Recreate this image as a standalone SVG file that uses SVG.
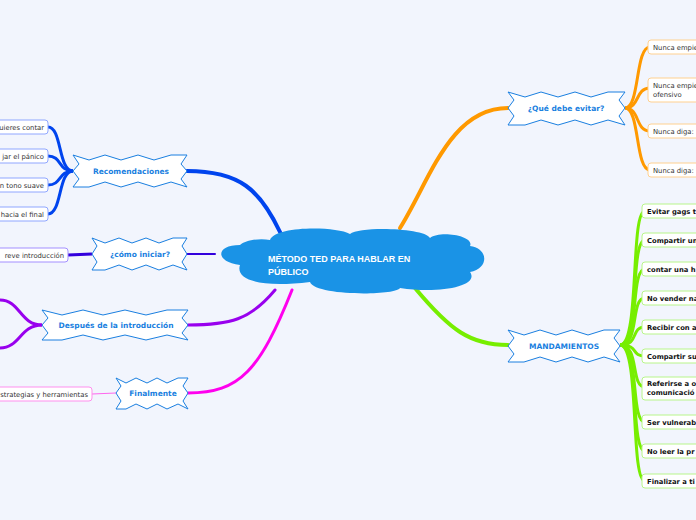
<svg xmlns="http://www.w3.org/2000/svg" width="696" height="520" viewBox="0 0 696 520">
<style>
text{font-family:"Liberation Sans",Arial,sans-serif}
.z{fill:#fff;stroke:#1a7fe0;stroke-width:1}
.zt{font-family:"DejaVu Sans",Verdana,sans-serif;font-size:7.5px;font-weight:bold;fill:#1a7fe0;text-anchor:middle}
.l{font-family:"DejaVu Sans",Verdana,sans-serif;font-size:6.8px;fill:#333}
.g{font-family:"DejaVu Sans",Verdana,sans-serif;font-size:6.8px;fill:#111;font-weight:bold}
.c{fill:none;stroke-linecap:round}
</style>
<rect width="696" height="520" fill="#f2f5fd"/>
<g id="connectors">
<path class="c" d="M400,228 C430,180 450,108 508,108" stroke="#ff9900" stroke-width="4"/>
<path class="c" d="M415,288 C450,330 470,345 508,345" stroke="#77ee00" stroke-width="4"/>
<path class="c" d="M280,232 C260,190 240,171 187,171" stroke="#0044ee" stroke-width="4"/>
<path class="c" d="M215,254 L187,254" stroke="#3300dd" stroke-width="2"/>
<path class="c" d="M275,290 C250,320 230,325 188,325" stroke="#9900ee" stroke-width="3"/>
<path class="c" d="M292,290 C260,370 240,393 188,393" stroke="#ff00ee" stroke-width="3"/>
<g stroke="#ff9900" stroke-width="3" fill="none">
<path d="M625,108 C640,108 635,47 650,47"/><path d="M625,108 C640,108 635,88 650,88"/><path d="M625,108 C640,108 635,131 650,131"/><path d="M625,108 C640,108 635,170 650,170"/>
</g>
<g stroke="#77ee00" stroke-width="3" fill="none">
<path d="M620,345 C640,345 630,211 645,211"/><path d="M620,345 C640,345 630,240 645,240"/><path d="M620,345 C640,345 630,269 645,269"/><path d="M620,345 C640,345 630,298 645,298"/><path d="M620,345 C640,345 630,327 645,327"/><path d="M620,345 C640,345 630,356 645,356"/><path d="M620,345 C640,345 630,387 645,387"/><path d="M620,345 C640,345 630,422 645,422"/><path d="M620,345 C640,345 630,451 645,451"/><path d="M620,345 C640,345 630,481 645,481"/>
</g>
<g stroke="#0044ee" stroke-width="3" fill="none">
<path d="M73,171 C58,171 62,127 48,127"/><path d="M73,171 C58,171 62,156 48,156"/><path d="M73,171 C58,171 62,185 48,185"/><path d="M73,171 C58,171 62,214 48,214"/>
</g>
<path d="M92,254 L68,255" stroke="#3300dd" stroke-width="3"/>
<g stroke="#9900ee" stroke-width="3" fill="none">
<path d="M42,325 C20,325 20,300 0,300"/><path d="M42,325 C20,325 20,348 0,348"/>
</g>
<path d="M116,393 L92,394" stroke="#ff66ee" stroke-width="1"/>
</g>
<g id="center">
<path d="M240,245 C215,245 215,262 240,265 C235,280 260,288 310,282 C315,296 395,296 400,288 C440,294 480,286 470,272 C490,268 488,248 470,246 C475,236 440,230 430,238 C425,228 360,226 350,234 C335,226 275,226 270,240 C260,238 245,240 240,245 Z" fill="#1a93e6"/>
<text x="268" y="262" font-size="9" font-weight="bold" fill="#fff" font-family="DejaVu Sans,Verdana,sans-serif">MÉTODO TED PARA HABLAR EN</text>
<text x="268" y="275" font-size="9" font-weight="bold" fill="#fff" font-family="DejaVu Sans,Verdana,sans-serif">PÚBLICO</text>
</g>
<g id="recomendaciones"><path d="M73,155 L89,160 L105,155 L121,160 L138,155 L154,160 L171,155 L187,155 L181,164 L187,171 L181,179 L187,187 L171,182 L154,187 L138,182 L121,187 L105,182 L89,187 L73,187 L79,179 L73,171 L79,164 Z" class="z"/><text class="zt" x="131" y="174">Recomendaciones</text></g>
<g id="comoiniciar"><path d="M92,238 L105,243 L119,238 L132,243 L146,238 L159,243 L173,238 L187,238 L182,246 L187,254 L182,262 L187,270 L173,265 L159,270 L146,265 L132,270 L119,265 L105,270 L92,270 L97,262 L92,254 L97,246 Z" class="z"/><text class="zt" x="140" y="257">¿cómo iniciar?</text></g>
<g id="despues"><path d="M42,310 L62,315 L83,310 L103,315 L125,310 L146,315 L167,310 L188,310 L182,318 L188,325 L182,333 L188,340 L167,335 L146,340 L125,335 L103,340 L83,335 L62,340 L42,340 L48,333 L42,325 L48,318 Z" class="z"/><text class="zt" x="116" y="328" font-size="7">Después de la introducción</text></g>
<g id="finalmente"><path d="M116,378 L126,383 L136,378 L147,383 L157,378 L167,383 L178,378 L188,378 L183,386 L188,393 L183,401 L188,409 L178,404 L167,409 L157,404 L147,409 L136,404 L126,409 L116,409 L121,401 L116,393 L121,386 Z" class="z"/><text class="zt" x="153" y="396" font-size="7">Finalmente</text></g>
<g id="evitar"><path d="M508,92 L525,97 L541,92 L558,97 L575,92 L591,97 L608,92 L625,92 L619,100 L625,108 L619,116 L625,125 L608,120 L591,125 L575,120 L558,125 L541,120 L525,125 L508,125 L514,116 L508,108 L514,100 Z" class="z"/><text class="zt" x="566" y="111">¿Qué debe evitar?</text></g>
<g id="mandamientos"><path d="M508,330 L524,335 L540,330 L556,335 L572,330 L588,335 L604,330 L620,330 L614,338 L620,346 L614,354 L620,362 L604,357 L588,362 L572,357 L556,362 L540,357 L524,362 L508,362 L514,354 L508,346 L514,338 Z" class="z"/><text class="zt" x="564" y="349">MANDAMIENTOS</text></g>
<g id="leaves-left" fill="#fff" stroke="#8fa6ff">
<rect x="-5" y="120" width="53" height="14" rx="3"/><text class="l" x="44" y="130" text-anchor="end" stroke="none">uieres contar</text>
<rect x="-5" y="149" width="53" height="14" rx="3"/><text class="l" x="44" y="159" text-anchor="end" stroke="none">jar el pánico</text>
<rect x="-5" y="178" width="53" height="14" rx="3"/><text class="l" x="44" y="188" text-anchor="end" stroke="none">n tono suave</text>
<rect x="-5" y="207" width="53" height="14" rx="3"/><text class="l" x="44" y="217" text-anchor="end" stroke="none">hacia el final</text>
<rect x="-5" y="248" width="73" height="14" rx="3" stroke="#a38fff"/><text class="l" x="64" y="258" text-anchor="end" stroke="none">reve introducción</text>
<rect x="-5" y="387" width="97" height="14" rx="3" stroke="#ff8fee"/><text class="l" x="88" y="397" text-anchor="end" stroke="none">strategias y herramientas</text>
</g>
<g id="leaves-evitar" fill="#fff" stroke="#ffd08f">
<rect x="648" y="40" width="60" height="14" rx="3"/><text class="l" x="653" y="50" stroke="none">Nunca empie</text>
<rect x="648" y="78" width="60" height="24" rx="3"/><text class="l" x="653" y="88" stroke="none">Nunca empie</text><text class="l" x="653" y="97" stroke="none">ofensivo</text>
<rect x="648" y="124" width="60" height="14" rx="3"/><text class="l" x="653" y="134" stroke="none">Nunca diga:</text>
<rect x="648" y="163" width="60" height="14" rx="3"/><text class="l" x="653" y="173" stroke="none">Nunca diga:</text>
</g>
<g id="leaves-mandamientos" fill="#fff" stroke="#b8f58a">
<rect x="642" y="204" width="66" height="14" rx="3"/><text class="g" x="647" y="214" stroke="none">Evitar gags t</text>
<rect x="642" y="233" width="66" height="14" rx="3"/><text class="g" x="647" y="243" stroke="none">Compartir un</text>
<rect x="642" y="262" width="66" height="14" rx="3"/><text class="g" x="647" y="272" stroke="none">contar una h</text>
<rect x="642" y="291" width="66" height="14" rx="3"/><text class="g" x="647" y="301" stroke="none">No vender na</text>
<rect x="642" y="320" width="66" height="14" rx="3"/><text class="g" x="647" y="330" stroke="none">Recibir con a</text>
<rect x="642" y="349" width="66" height="14" rx="3"/><text class="g" x="647" y="359" stroke="none">Compartir su</text>
<rect x="642" y="377" width="66" height="23" rx="3"/><text class="g" x="647" y="386" stroke="none">Referirse a o</text><text class="g" x="647" y="395" stroke="none">comunicació</text>
<rect x="642" y="415" width="66" height="14" rx="3"/><text class="g" x="647" y="425" stroke="none">Ser vulnerab</text>
<rect x="642" y="444" width="66" height="14" rx="3"/><text class="g" x="647" y="454" stroke="none">No leer la pr</text>
<rect x="642" y="474" width="66" height="14" rx="3"/><text class="g" x="647" y="484" stroke="none">Finalizar a ti</text>
</g>
</svg>
